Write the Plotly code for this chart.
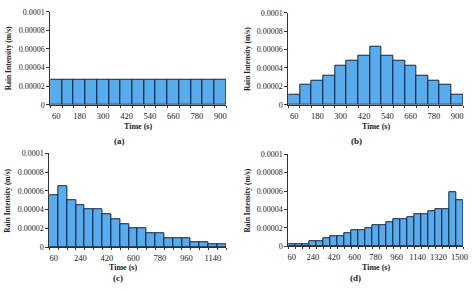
import plotly.graph_objects as go

W, H = 474, 291

# ---- data ----
time_a = list(range(60, 901, 60))
rain_a = [2.72e-5] * 15

time_b = list(range(60, 901, 60))
rain_b = [1.05e-5, 2.15e-5, 2.65e-5, 3.2e-5, 4.25e-5, 4.75e-5, 5.3e-5, 6.35e-5,
          5.3e-5, 4.75e-5, 4.25e-5, 3.2e-5, 2.65e-5, 2.15e-5, 1.05e-5]

time_c = list(range(60, 1201, 60))
rain_c = [5.55e-5, 6.45e-5, 5.0e-5, 4.5e-5, 4.0e-5, 4.0e-5, 3.5e-5, 3.0e-5, 2.5e-5, 2.0e-5,
          2.0e-5, 1.5e-5, 1.5e-5, 1.0e-5, 1.0e-5, 1.0e-5, 5.0e-6, 5.0e-6, 2.7e-6, 2.7e-6]

time_d = list(range(60, 1501, 60))
rain_d = [2.5e-6, 2.5e-6, 2.5e-6, 5.5e-6, 5.5e-6, 8.5e-6, 1.12e-5, 1.12e-5, 1.43e-5, 1.72e-5,
          1.72e-5, 2.0e-5, 2.3e-5, 2.3e-5, 2.6e-5, 2.9e-5, 2.9e-5, 3.2e-5, 3.5e-5, 3.5e-5,
          3.8e-5, 4.08e-5, 4.08e-5, 5.85e-5, 5.0e-5]

ticks_a = list(range(60, 901, 120))
ticks_c = list(range(60, 1141, 180))
ticks_d = list(range(60, 1501, 180))

y_vals = [0, 0.00002, 0.00004, 0.00006, 0.00008, 0.0001]
y_text = ["0", "0.00002", "0.00004", "0.00006", "0.00008", "0.0001"]

panels = [
    # (times, values, ticks, x px range, y px range)
    (time_a, rain_a, ticks_a, (50, 228), (8, 104)),
    (time_b, rain_b, ticks_a, (291, 468), (9, 104)),
    (time_c, rain_c, ticks_c, (49, 228), (154, 251)),
    (time_d, rain_d, ticks_d, (291, 468), (155, 250)),
]

FONT = "Liberation Serif"
BAR = "#58ACEE"
EDGE = "#16233D"
AX = "#333333"

fig = go.Figure()
layout = dict(
    width=W, height=H, margin=dict(l=0, r=0, t=0, b=0),
    paper_bgcolor="white", plot_bgcolor="white", showlegend=False,
    font=dict(family=FONT, size=8, color="#222222"),
    bargap=0,
)

for i, (t, v, tk, (x0, x1), (y0, y1)) in enumerate(panels):
    n = i + 1
    xa = "x" if n == 1 else f"x{n}"
    ya = "y" if n == 1 else f"y{n}"
    fig.add_trace(go.Bar(
        x=t, y=v, width=60, xaxis=xa, yaxis=ya,
        marker=dict(color=BAR, line=dict(color=EDGE, width=1)),
    ))
    step = t[1] - t[0]
    layout[f"xaxis{'' if n == 1 else n}"] = dict(
        domain=[x0 / W, x1 / W], anchor=ya,
        range=[t[0] - step / 2, t[-1] + step / 2],
        tickmode="array", tickvals=tk, ticktext=[str(k) for k in tk],
        showline=True, linecolor=AX, linewidth=1, showgrid=False, zeroline=False,
        ticks="", tickfont=dict(family=FONT, size=8.5), ticklabelstandoff=3,
        minor=dict(tickmode="linear", tick0=t[0] - step / 2, dtick=step,
                   ticks="outside", ticklen=2, tickcolor=AX, showgrid=False),
    )
    layout[f"yaxis{'' if n == 1 else n}"] = dict(
        domain=[1 - y1 / H, 1 - y0 / H], anchor=xa,
        range=[0, 0.0001],
        tickmode="array", tickvals=y_vals, ticktext=y_text,
        showline=True, linecolor=AX, linewidth=1, showgrid=False, zeroline=False,
        ticks="outside", ticklen=3, tickcolor=AX, tickfont=dict(family=FONT, size=8),
    )

anns = []
def ann(text, px, py, size=8, bold=True, angle=0):
    anns.append(dict(
        text=f"<b>{text}</b>" if bold else text,
        x=px / W, y=1 - py / H, xref="paper", yref="paper",
        showarrow=False, textangle=angle, xanchor="center", yanchor="middle",
        font=dict(family=FONT, size=size, color="#222222"),
    ))

# y titles
ann("Rain Intensity (m/s)", 7, 56, size=7.5, angle=-90)
ann("Rain Intensity (m/s)", 249, 57, size=7.5, angle=-90)
ann("Rain Intensity (m/s)", 7, 203, size=7.5, angle=-90)
ann("Rain Intensity (m/s)", 250, 203, size=7.5, angle=-90)
# x titles
ann("Time (s)", 139, 126, size=8)
ann("Time (s)", 380, 126, size=8)
ann("Time (s)", 124, 272, size=8)
ann("Time (s)", 380, 272, size=8)
# panel labels
ann("(a)", 120, 141, size=9)
ann("(b)", 360, 141, size=9)
ann("(c)", 118, 283, size=9)
ann("(d)", 359, 283, size=9)

layout["annotations"] = anns
fig.update_layout(**layout)
fig.write_html("out.html")
